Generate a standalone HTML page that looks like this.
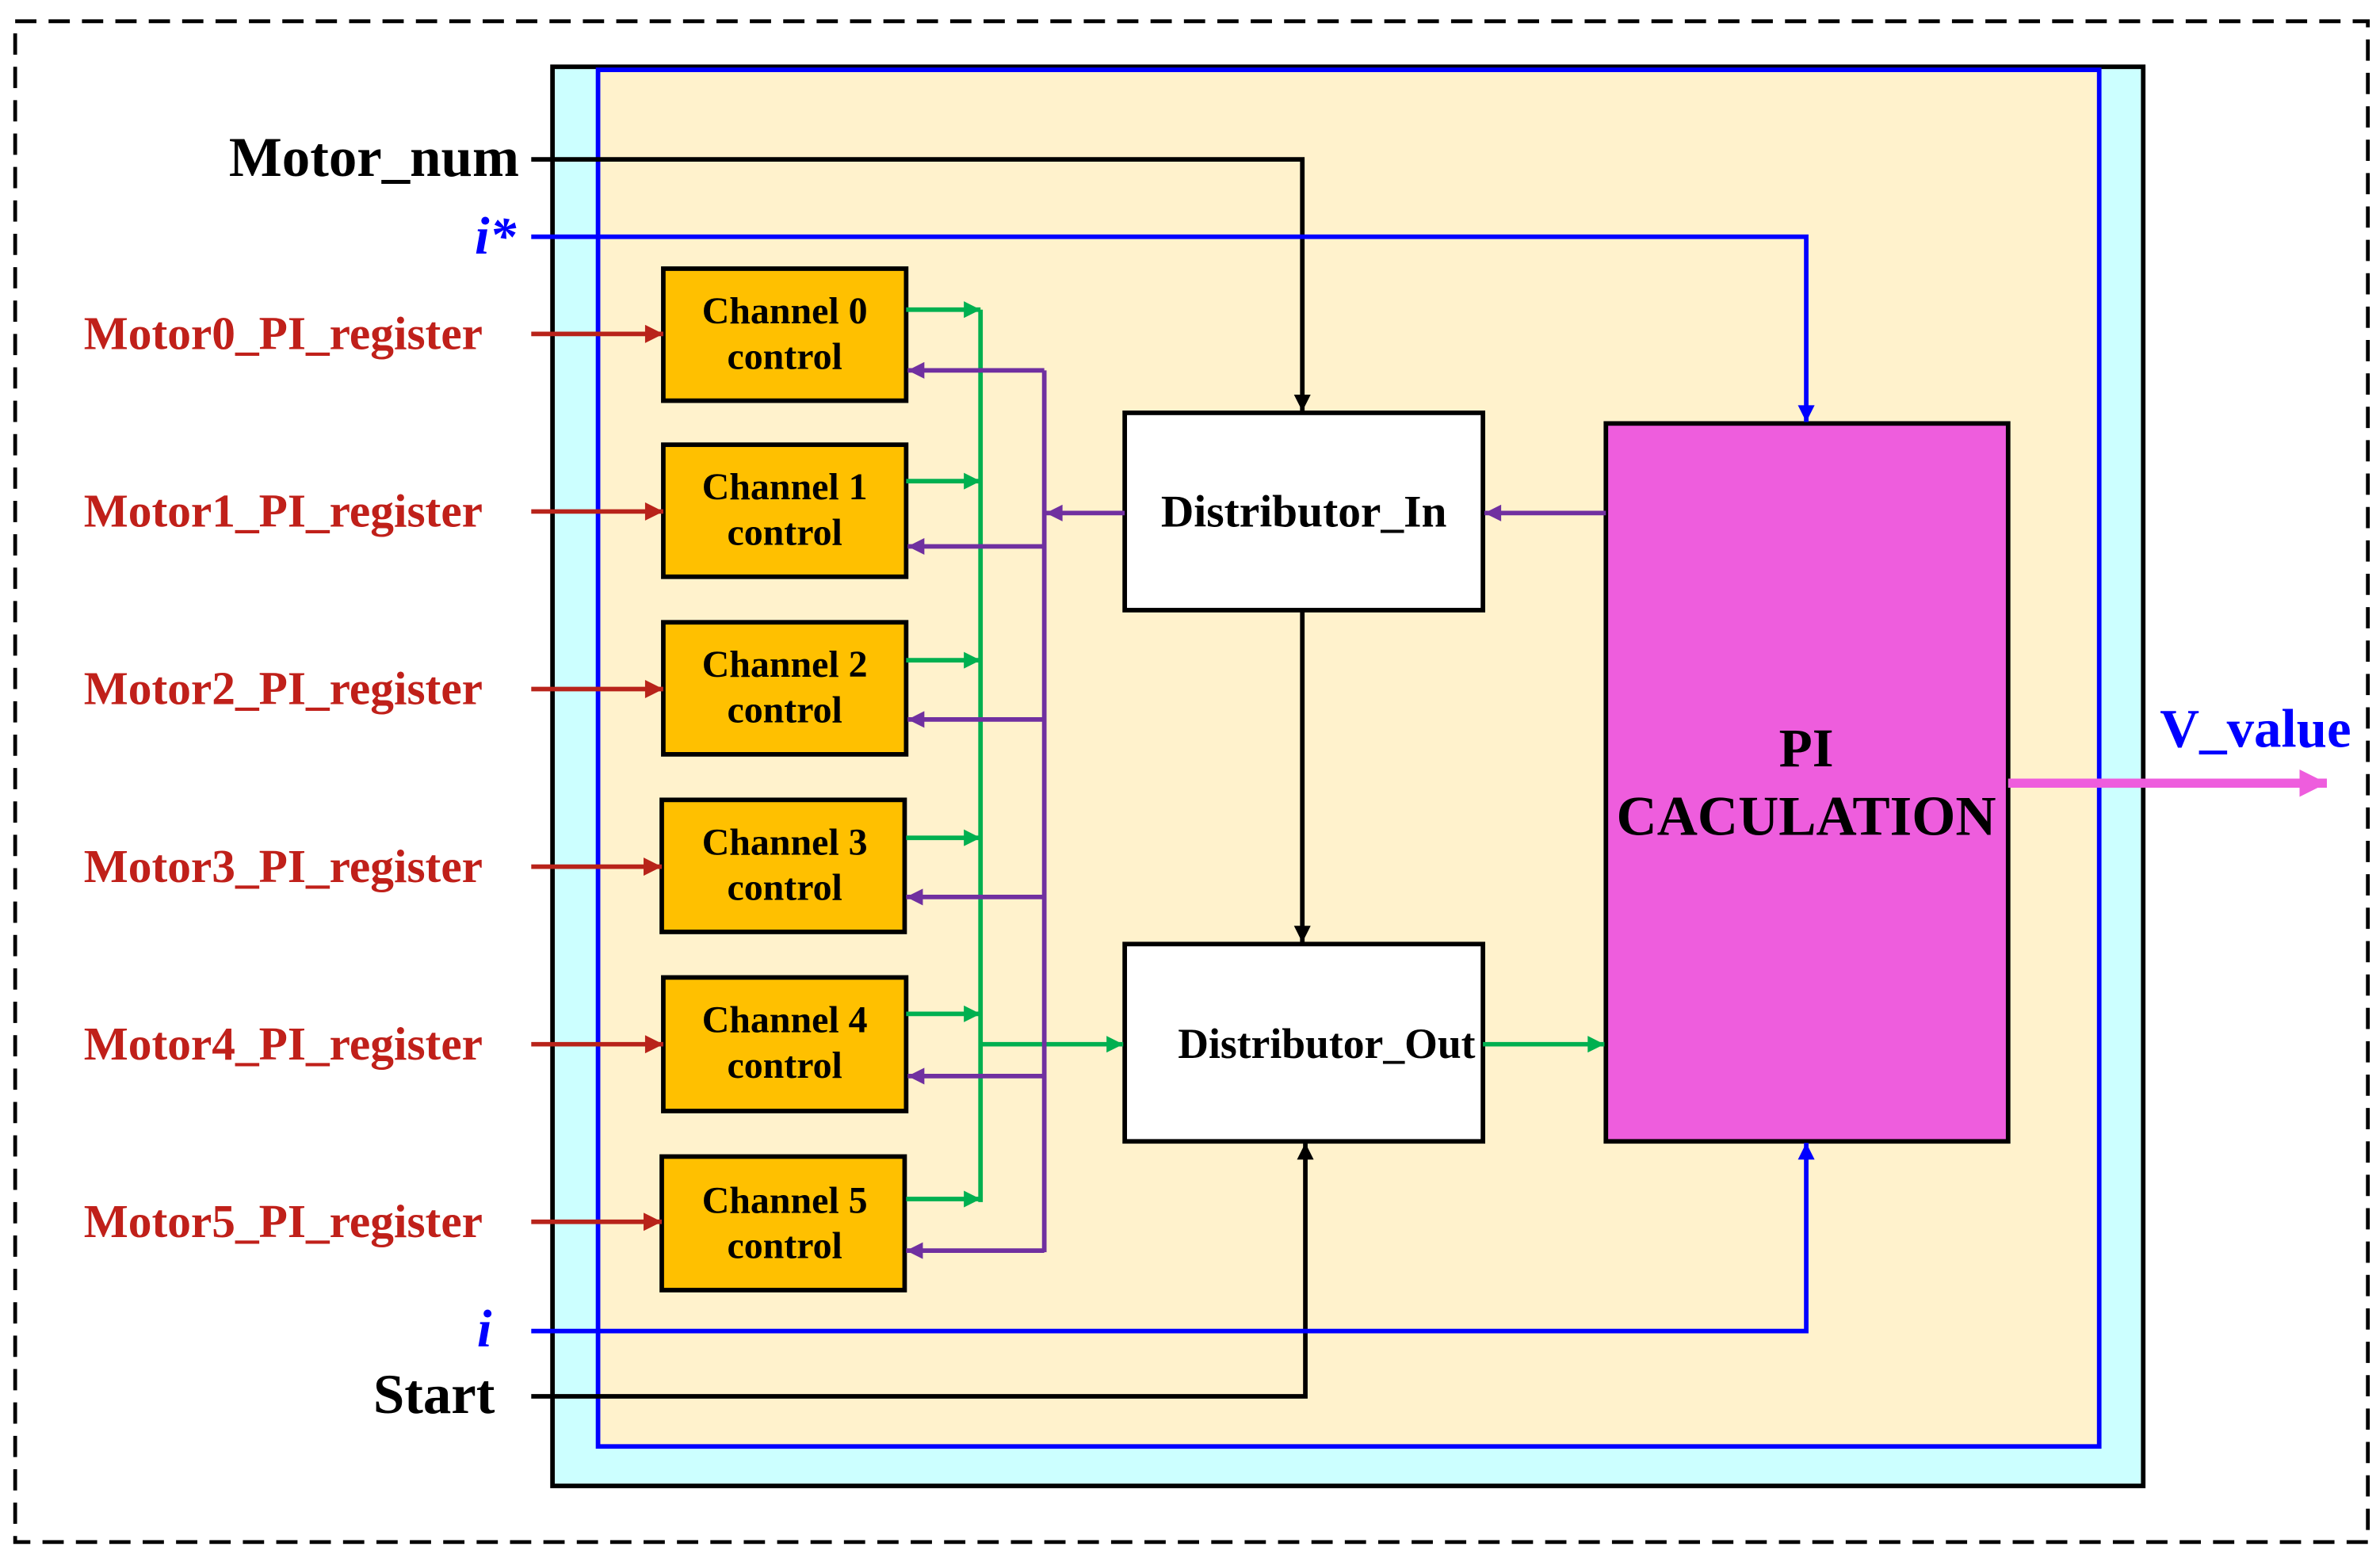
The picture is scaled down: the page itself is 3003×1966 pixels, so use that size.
<!DOCTYPE html>
<html><head><meta charset="utf-8"><style>html,body{margin:0;padding:0;background:#fff}svg{display:block}</style></head>
<body>
<svg width="3003" height="1966" viewBox="0 0 1568 1026.5" preserveAspectRatio="none" xmlns="http://www.w3.org/2000/svg" font-family="Liberation Serif, serif" font-weight="bold">
<defs>
<marker id="ar" viewBox="0 0 10 10" refX="10" refY="5" markerWidth="18" markerHeight="12" orient="auto" markerUnits="userSpaceOnUse"><path d="M0,0 L10,5 L0,10z" fill="#b8231a"/></marker>
<marker id="ag" viewBox="0 0 10 10" refX="10" refY="5" markerWidth="16" markerHeight="11" orient="auto" markerUnits="userSpaceOnUse"><path d="M0,0 L10,5 L0,10z" fill="#00b050"/></marker>
<marker id="ap" viewBox="0 0 10 10" refX="10" refY="5" markerWidth="16" markerHeight="11" orient="auto" markerUnits="userSpaceOnUse"><path d="M0,0 L10,5 L0,10z" fill="#7030a0"/></marker>
<marker id="ak" viewBox="0 0 10 10" refX="10" refY="5" markerWidth="14" markerHeight="11" orient="auto" markerUnits="userSpaceOnUse"><path d="M0,0 L10,5 L0,10z" fill="#000"/></marker>
<marker id="ab" viewBox="0 0 10 10" refX="10" refY="5" markerWidth="14" markerHeight="11" orient="auto" markerUnits="userSpaceOnUse"><path d="M0,0 L10,5 L0,10z" fill="#0000ff"/></marker>
<marker id="am" viewBox="0 0 10 10" refX="10" refY="5" markerWidth="24" markerHeight="18" orient="auto" markerUnits="userSpaceOnUse"><path d="M0,0 L10,5 L0,10z" fill="#ee5ddd"/></marker>
</defs>
<rect x="10" y="14" width="1550" height="1002" fill="none" stroke="#000" stroke-width="2.5" stroke-dasharray="14,8"/>
<rect x="364" y="44" width="1048" height="935" fill="#ccffff" stroke="#000" stroke-width="3"/>
<rect x="394" y="46" width="989" height="907" fill="#fff2cc" stroke="#0000ff" stroke-width="3"/>
<g fill="#ffc000" stroke="#000" stroke-width="3">
<rect x="437" y="177" width="160" height="87"/><rect x="437" y="293" width="160" height="87"/>
<rect x="437" y="410" width="160" height="87"/><rect x="436" y="527" width="160" height="87"/>
<rect x="437" y="644" width="160" height="88"/><rect x="436" y="762" width="160" height="88"/>
</g>
<g font-size="25" text-anchor="middle" fill="#000">
<text x="517" y="213">Channel 0</text><text x="517" y="243">control</text>
<text x="517" y="329">Channel 1</text><text x="517" y="359">control</text>
<text x="517" y="446">Channel 2</text><text x="517" y="476">control</text>
<text x="517" y="563">Channel 3</text><text x="517" y="593">control</text>
<text x="517" y="680">Channel 4</text><text x="517" y="710">control</text>
<text x="517" y="799">Channel 5</text><text x="517" y="829">control</text>
</g>
<rect x="741" y="272" width="236" height="130" fill="#fff" stroke="#000" stroke-width="3"/>
<rect x="741" y="622" width="236" height="130" fill="#fff" stroke="#000" stroke-width="3"/>
<rect x="1058" y="279" width="265" height="473" fill="#ee5ddd" stroke="#000" stroke-width="3"/>
<text x="859" y="347" font-size="30" text-anchor="middle">Distributor_In</text>
<text x="874" y="697" font-size="28" text-anchor="middle">Distributor_Out</text>
<text x="1190" y="505" font-size="36" text-anchor="middle">PI</text>
<text x="1190" y="550" font-size="37" text-anchor="middle">CACULATION</text>
<g stroke="#00b050" stroke-width="3" fill="none">
<line x1="646" y1="204" x2="646" y2="792"/>
<line x1="597" y1="204" x2="646" y2="204" marker-end="url(#ag)"/>
<line x1="597" y1="317" x2="646" y2="317" marker-end="url(#ag)"/>
<line x1="597" y1="435" x2="646" y2="435" marker-end="url(#ag)"/>
<line x1="597" y1="552" x2="646" y2="552" marker-end="url(#ag)"/>
<line x1="597" y1="668" x2="646" y2="668" marker-end="url(#ag)"/>
<line x1="597" y1="790" x2="646" y2="790" marker-end="url(#ag)"/>
<line x1="646" y1="688" x2="740" y2="688" marker-end="url(#ag)"/>
<line x1="977" y1="688" x2="1057" y2="688" marker-end="url(#ag)"/>
</g>
<g stroke="#7030a0" stroke-width="3" fill="none">
<line x1="688" y1="244" x2="688" y2="825"/>
<line x1="688" y1="244" x2="598" y2="244" marker-end="url(#ap)"/>
<line x1="688" y1="360" x2="598" y2="360" marker-end="url(#ap)"/>
<line x1="688" y1="474" x2="598" y2="474" marker-end="url(#ap)"/>
<line x1="688" y1="591" x2="597" y2="591" marker-end="url(#ap)"/>
<line x1="688" y1="709" x2="598" y2="709" marker-end="url(#ap)"/>
<line x1="688" y1="824" x2="597" y2="824" marker-end="url(#ap)"/>
<line x1="741" y1="338" x2="689" y2="338" marker-end="url(#ap)"/>
<line x1="1058" y1="338" x2="978" y2="338" marker-end="url(#ap)"/>
</g>
<g stroke="#b8231a" stroke-width="3">
<line x1="350" y1="220" x2="437" y2="220" marker-end="url(#ar)"/>
<line x1="350" y1="337" x2="437" y2="337" marker-end="url(#ar)"/>
<line x1="350" y1="454" x2="437" y2="454" marker-end="url(#ar)"/>
<line x1="350" y1="571" x2="436" y2="571" marker-end="url(#ar)"/>
<line x1="350" y1="688" x2="437" y2="688" marker-end="url(#ar)"/>
<line x1="350" y1="805" x2="436" y2="805" marker-end="url(#ar)"/>
</g>
<g stroke="#000" stroke-width="3" fill="none">
<polyline points="350,105 858,105 858,271" marker-end="url(#ak)"/>
<line x1="858" y1="402" x2="858" y2="621" marker-end="url(#ak)"/>
<polyline points="350,920 860,920 860,753" marker-end="url(#ak)"/>
</g>
<g stroke="#0000ff" stroke-width="3" fill="none">
<polyline points="350,156 1190,156 1190,278" marker-end="url(#ab)"/>
<polyline points="350,877 1190,877 1190,753" marker-end="url(#ab)"/>
</g>
<line x1="1323" y1="516" x2="1533" y2="516" stroke="#ee5ddd" stroke-width="6" marker-end="url(#am)"/>
<g font-size="31" fill="#c0201a" text-anchor="end">
<text x="318" y="230">Motor0_PI_register</text>
<text x="318" y="347">Motor1_PI_register</text>
<text x="318" y="464">Motor2_PI_register</text>
<text x="318" y="581">Motor3_PI_register</text>
<text x="318" y="698">Motor4_PI_register</text>
<text x="318" y="815">Motor5_PI_register</text>
</g>
<text x="342" y="116" font-size="37" text-anchor="end">Motor_num</text>
<text x="340" y="167" font-size="35" text-anchor="end" fill="#0000ff" font-style="italic">i*</text>
<text x="324" y="887" font-size="35" text-anchor="end" fill="#0000ff" font-style="italic">i</text>
<text x="326" y="931" font-size="37" text-anchor="end">Start</text>
<text x="1486" y="492" font-size="36" text-anchor="middle" fill="#0000ff">V_value</text>
</svg>
</body></html>
